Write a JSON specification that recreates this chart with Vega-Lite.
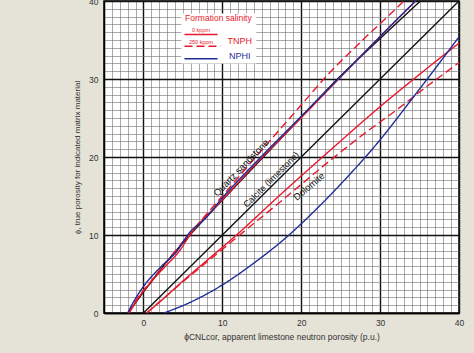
{
  "$schema": "https://vega.github.io/schema/vega-lite/v6.json",
  "width": 355,
  "height": 312,
  "autosize": {"type": "none"},
  "padding": {"left": 104, "top": 1, "right": 15, "bottom": 40},
  "background": "#e5e2d7",
  "config": {
    "view": {"fill": "white", "stroke": "#000", "strokeWidth": 1.5},
    "font": "Liberation Sans",
    "text": {"font": "Liberation Sans"}
  },
  "resolve": {"axis": {"x": "independent", "y": "independent"}},
  "datasets": {
    "curves": [
      {"matrix": "Quartz sandstone", "kind": "CNL", "x": -1.9, "y": 0},
      {"matrix": "Quartz sandstone", "kind": "CNL", "x": -0.5, "y": 2},
      {"matrix": "Quartz sandstone", "kind": "CNL", "x": 1, "y": 4},
      {"matrix": "Quartz sandstone", "kind": "CNL", "x": 3.3, "y": 7},
      {"matrix": "Quartz sandstone", "kind": "CNL", "x": 5.9, "y": 10},
      {"matrix": "Quartz sandstone", "kind": "CNL", "x": 10.5, "y": 15},
      {"matrix": "Quartz sandstone", "kind": "CNL", "x": 15.2, "y": 20},
      {"matrix": "Quartz sandstone", "kind": "CNL", "x": 19.9, "y": 25},
      {"matrix": "Quartz sandstone", "kind": "CNL", "x": 24.6, "y": 30},
      {"matrix": "Quartz sandstone", "kind": "CNL", "x": 29.8, "y": 35},
      {"matrix": "Quartz sandstone", "kind": "CNL", "x": 35.1, "y": 40},
      {"matrix": "Calcite", "kind": "CNL", "x": 0, "y": 0},
      {"matrix": "Calcite", "kind": "CNL", "x": 40, "y": 40},
      {"matrix": "Quartz sandstone", "kind": "TNPH 0 kppm", "x": -1.8, "y": 0},
      {"matrix": "Quartz sandstone", "kind": "TNPH 0 kppm", "x": -0.6, "y": 2},
      {"matrix": "Quartz sandstone", "kind": "TNPH 0 kppm", "x": 0.8, "y": 3.8},
      {"matrix": "Quartz sandstone", "kind": "TNPH 0 kppm", "x": 2.7, "y": 5.9},
      {"matrix": "Quartz sandstone", "kind": "TNPH 0 kppm", "x": 4.6, "y": 8},
      {"matrix": "Quartz sandstone", "kind": "TNPH 0 kppm", "x": 5.9, "y": 10},
      {"matrix": "Quartz sandstone", "kind": "TNPH 0 kppm", "x": 9.9, "y": 14.4},
      {"matrix": "Quartz sandstone", "kind": "TNPH 0 kppm", "x": 14.6, "y": 19.5},
      {"matrix": "Quartz sandstone", "kind": "TNPH 0 kppm", "x": 19.2, "y": 24.2},
      {"matrix": "Quartz sandstone", "kind": "TNPH 0 kppm", "x": 23.8, "y": 29},
      {"matrix": "Quartz sandstone", "kind": "TNPH 0 kppm", "x": 28.4, "y": 33.8},
      {"matrix": "Quartz sandstone", "kind": "TNPH 0 kppm", "x": 32.8, "y": 38.3},
      {"matrix": "Quartz sandstone", "kind": "TNPH 0 kppm", "x": 34.5, "y": 40},
      {"matrix": "Quartz sandstone", "kind": "TNPH 250 kppm", "x": -1.9, "y": 0},
      {"matrix": "Quartz sandstone", "kind": "TNPH 250 kppm", "x": -0.7, "y": 2},
      {"matrix": "Quartz sandstone", "kind": "TNPH 250 kppm", "x": 0.8, "y": 3.9},
      {"matrix": "Quartz sandstone", "kind": "TNPH 250 kppm", "x": 5.8, "y": 10.1},
      {"matrix": "Quartz sandstone", "kind": "TNPH 250 kppm", "x": 10, "y": 15},
      {"matrix": "Quartz sandstone", "kind": "TNPH 250 kppm", "x": 14.4, "y": 20.2},
      {"matrix": "Quartz sandstone", "kind": "TNPH 250 kppm", "x": 19, "y": 25.5},
      {"matrix": "Quartz sandstone", "kind": "TNPH 250 kppm", "x": 23.6, "y": 30.8},
      {"matrix": "Quartz sandstone", "kind": "TNPH 250 kppm", "x": 28, "y": 35.2},
      {"matrix": "Quartz sandstone", "kind": "TNPH 250 kppm", "x": 32.3, "y": 39.3},
      {"matrix": "Quartz sandstone", "kind": "TNPH 250 kppm", "x": 33, "y": 40},
      {"matrix": "Quartz sandstone", "kind": "NPHI", "x": -2, "y": 0},
      {"matrix": "Quartz sandstone", "kind": "NPHI", "x": -1.1, "y": 1.7},
      {"matrix": "Quartz sandstone", "kind": "NPHI", "x": 0.3, "y": 3.8},
      {"matrix": "Quartz sandstone", "kind": "NPHI", "x": 2.2, "y": 5.9},
      {"matrix": "Quartz sandstone", "kind": "NPHI", "x": 4.3, "y": 8},
      {"matrix": "Quartz sandstone", "kind": "NPHI", "x": 5.6, "y": 10},
      {"matrix": "Quartz sandstone", "kind": "NPHI", "x": 8, "y": 12.3},
      {"matrix": "Quartz sandstone", "kind": "NPHI", "x": 9.7, "y": 14.4},
      {"matrix": "Quartz sandstone", "kind": "NPHI", "x": 14.5, "y": 19.6},
      {"matrix": "Quartz sandstone", "kind": "NPHI", "x": 19.2, "y": 24.4},
      {"matrix": "Quartz sandstone", "kind": "NPHI", "x": 23.8, "y": 29.1},
      {"matrix": "Quartz sandstone", "kind": "NPHI", "x": 28.4, "y": 33.8},
      {"matrix": "Quartz sandstone", "kind": "NPHI", "x": 32.8, "y": 38.3},
      {"matrix": "Quartz sandstone", "kind": "NPHI", "x": 34.5, "y": 40},
      {"matrix": "Dolomite", "kind": "TNPH 0 kppm", "x": 0.4, "y": 0},
      {"matrix": "Dolomite", "kind": "TNPH 0 kppm", "x": 2.5, "y": 1.8},
      {"matrix": "Dolomite", "kind": "TNPH 0 kppm", "x": 5, "y": 4.1},
      {"matrix": "Dolomite", "kind": "TNPH 0 kppm", "x": 8, "y": 6.7},
      {"matrix": "Dolomite", "kind": "TNPH 0 kppm", "x": 11.8, "y": 10},
      {"matrix": "Dolomite", "kind": "TNPH 0 kppm", "x": 17.5, "y": 15.3},
      {"matrix": "Dolomite", "kind": "TNPH 0 kppm", "x": 23.6, "y": 20.8},
      {"matrix": "Dolomite", "kind": "TNPH 0 kppm", "x": 29.7, "y": 26.2},
      {"matrix": "Dolomite", "kind": "TNPH 0 kppm", "x": 35, "y": 30.6},
      {"matrix": "Dolomite", "kind": "TNPH 0 kppm", "x": 40, "y": 34.6},
      {"matrix": "Dolomite", "kind": "TNPH 250 kppm", "x": 0.4, "y": 0},
      {"matrix": "Dolomite", "kind": "TNPH 250 kppm", "x": 5, "y": 4},
      {"matrix": "Dolomite", "kind": "TNPH 250 kppm", "x": 8, "y": 6.5},
      {"matrix": "Dolomite", "kind": "TNPH 250 kppm", "x": 12.2, "y": 10},
      {"matrix": "Dolomite", "kind": "TNPH 250 kppm", "x": 18, "y": 14.8},
      {"matrix": "Dolomite", "kind": "TNPH 250 kppm", "x": 23.6, "y": 19.5},
      {"matrix": "Dolomite", "kind": "TNPH 250 kppm", "x": 28, "y": 23},
      {"matrix": "Dolomite", "kind": "TNPH 250 kppm", "x": 32.3, "y": 26.2},
      {"matrix": "Dolomite", "kind": "TNPH 250 kppm", "x": 36, "y": 29.1},
      {"matrix": "Dolomite", "kind": "TNPH 250 kppm", "x": 40, "y": 32.1},
      {"matrix": "Dolomite", "kind": "NPHI", "x": 2.6, "y": 0},
      {"matrix": "Dolomite", "kind": "NPHI", "x": 6, "y": 1.4},
      {"matrix": "Dolomite", "kind": "NPHI", "x": 10, "y": 3.6},
      {"matrix": "Dolomite", "kind": "NPHI", "x": 14, "y": 6.4},
      {"matrix": "Dolomite", "kind": "NPHI", "x": 18, "y": 9.6},
      {"matrix": "Dolomite", "kind": "NPHI", "x": 22, "y": 13.4},
      {"matrix": "Dolomite", "kind": "NPHI", "x": 26, "y": 17.6},
      {"matrix": "Dolomite", "kind": "NPHI", "x": 30, "y": 22.2},
      {"matrix": "Dolomite", "kind": "NPHI", "x": 34, "y": 27.4},
      {"matrix": "Dolomite", "kind": "NPHI", "x": 37.4, "y": 31.9},
      {"matrix": "Dolomite", "kind": "NPHI", "x": 40, "y": 35.4}
    ]
  },
  "layer": [
    {
      "data": {"name": "curves"},
      "transform": [{"filter": "datum.kind === 'CNL'"}],
      "mark": {"type": "line", "color": "#111111", "strokeWidth": 1.4, "interpolate": "monotone"},
      "encoding": {
        "x": {
          "field": "x", "type": "quantitative",
          "scale": {"domain": [-5, 40], "nice": false, "zero": false},
          "axis": {
            "orient": "bottom",
            "title": "ϕCNLcor, apparent limestone neutron porosity (p.u.)",
            "values": [-5,-4,-3,-2,-1,0,1,2,3,4,5,6,7,8,9,10,11,12,13,14,15,16,17,18,19,20,21,22,23,24,25,26,27,28,29,30,31,32,33,34,35,36,37,38,39,40],
            "labelExpr": "datum.value % 10 === 0 ? datum.label : ''",
            "labelOverlap": false, "labelFlush": false,
            "ticks": false, "labelPadding": 5,
            "labelFontSize": 8.5, "labelColor": "#333333",
            "titleFontSize": 8.5, "titleFontWeight": "normal", "titleColor": "#333333", "titlePadding": 6,
            "domainColor": "#000000", "domainWidth": 1.5,
            "grid": true,
            "gridColor": {"condition": {"test": "datum.value % 10 === 0", "value": "#111111"}, "value": "#707070"},
            "gridWidth": {"condition": {"test": "datum.value % 10 === 0", "value": 1.4}, "value": 0.6},
            "gridOpacity": 1
          }
        },
        "y": {
          "field": "y", "type": "quantitative",
          "scale": {"domain": [0, 40], "nice": false, "zero": false},
          "axis": {
            "orient": "left",
            "title": "ϕ, true porosity for indicated matrix material",
            "values": [0,1,2,3,4,5,6,7,8,9,10,11,12,13,14,15,16,17,18,19,20,21,22,23,24,25,26,27,28,29,30,31,32,33,34,35,36,37,38,39,40],
            "labelExpr": "datum.value % 10 === 0 ? datum.label : ''",
            "labelOverlap": false, "labelFlush": false,
            "ticks": false, "labelPadding": 6,
            "labelFontSize": 8.5, "labelColor": "#333333",
            "titleFontSize": 8, "titleFontWeight": "normal", "titleColor": "#333333", "titlePadding": 7,
            "domainColor": "#000000", "domainWidth": 1.5,
            "grid": true,
            "gridColor": {"condition": {"test": "datum.value % 10 === 0", "value": "#111111"}, "value": "#707070"},
            "gridWidth": {"condition": {"test": "datum.value % 10 === 0", "value": 1.4}, "value": 0.6},
            "gridOpacity": 1
          }
        },
        "detail": {"field": "matrix"}
      }
    },
    {
      "data": {"name": "curves"},
      "transform": [{"filter": "datum.kind !== 'CNL'"}],
      "mark": {"type": "line", "strokeWidth": 1.4, "interpolate": "monotone"},
      "encoding": {
        "x": {"field": "x", "type": "quantitative", "axis": null},
        "y": {"field": "y", "type": "quantitative", "axis": null},
        "detail": {"field": "matrix"},
        "color": {
          "field": "kind", "type": "nominal", "legend": null,
          "scale": {"domain": ["TNPH 0 kppm", "TNPH 250 kppm", "NPHI"], "range": ["#e8192c", "#e8192c", "#1f2d98"]}
        },
        "strokeDash": {
          "field": "kind", "type": "nominal", "legend": null,
          "scale": {"domain": ["TNPH 0 kppm", "TNPH 250 kppm", "NPHI"], "range": [[1, 0], [8, 4], [1, 0]]}
        }
      }
    },
    {
      "data": {"values": [{}]},
      "mark": {"type": "text", "text": "Quartz sandstone", "angle": -46, "fontSize": 9.5, "color": "#111111"},
      "encoding": {
        "x": {"datum": 12.4, "type": "quantitative", "axis": null},
        "y": {"datum": 18.6, "type": "quantitative", "axis": null}
      }
    },
    {
      "data": {"values": [{}]},
      "mark": {"type": "text", "text": "Calcite (limestone)", "angle": -45, "fontSize": 9, "color": "#111111"},
      "encoding": {
        "x": {"datum": 16.2, "type": "quantitative", "axis": null},
        "y": {"datum": 17.1, "type": "quantitative", "axis": null}
      }
    },
    {
      "data": {"values": [{}]},
      "mark": {"type": "text", "text": "Dolomite", "angle": -40, "fontSize": 9.5, "color": "#111111"},
      "encoding": {
        "x": {"datum": 21, "type": "quantitative", "axis": null},
        "y": {"datum": 16.2, "type": "quantitative", "axis": null}
      }
    },
    {
      "data": {"values": [{}]},
      "mark": {"type": "rect", "fill": "white"},
      "encoding": {
        "x": {"datum": 4.8, "type": "quantitative", "axis": null},
        "x2": {"datum": 14.3},
        "y": {"datum": 32.0, "type": "quantitative", "axis": null},
        "y2": {"datum": 38.4}
      }
    },
    {
      "data": {"values": [{}]},
      "mark": {"type": "text", "text": "Formation salinity", "fontSize": 8.5, "color": "#e8192c"},
      "encoding": {
        "x": {"datum": 9.5, "type": "quantitative", "axis": null},
        "y": {"datum": 37.8, "type": "quantitative", "axis": null}
      }
    },
    {
      "data": {"values": [{}]},
      "mark": {"type": "text", "text": "0 kppm", "fontSize": 5.5, "color": "#e8192c"},
      "encoding": {
        "x": {"datum": 7.3, "type": "quantitative", "axis": null},
        "y": {"datum": 36.3, "type": "quantitative", "axis": null}
      }
    },
    {
      "data": {"values": [{}]},
      "mark": {"type": "rule", "color": "#e8192c", "strokeWidth": 1.5},
      "encoding": {
        "x": {"datum": 5.2, "type": "quantitative", "axis": null},
        "x2": {"datum": 9.4},
        "y": {"datum": 35.7, "type": "quantitative", "axis": null}
      }
    },
    {
      "data": {"values": [{}]},
      "mark": {"type": "text", "text": "250 kppm", "fontSize": 5.5, "color": "#e8192c"},
      "encoding": {
        "x": {"datum": 7.3, "type": "quantitative", "axis": null},
        "y": {"datum": 34.8, "type": "quantitative", "axis": null}
      }
    },
    {
      "data": {"values": [{}]},
      "mark": {"type": "rule", "color": "#e8192c", "strokeWidth": 1.5, "strokeDash": [8, 4]},
      "encoding": {
        "x": {"datum": 5.2, "type": "quantitative", "axis": null},
        "x2": {"datum": 9.8},
        "y": {"datum": 34.2, "type": "quantitative", "axis": null}
      }
    },
    {
      "data": {"values": [{}]},
      "mark": {"type": "text", "text": "TNPH", "fontSize": 9, "color": "#e8192c"},
      "encoding": {
        "x": {"datum": 12.2, "type": "quantitative", "axis": null},
        "y": {"datum": 34.9, "type": "quantitative", "axis": null}
      }
    },
    {
      "data": {"values": [{}]},
      "mark": {"type": "rule", "color": "#1f2d98", "strokeWidth": 1.5},
      "encoding": {
        "x": {"datum": 5.2, "type": "quantitative", "axis": null},
        "x2": {"datum": 9.4},
        "y": {"datum": 32.6, "type": "quantitative", "axis": null}
      }
    },
    {
      "data": {"values": [{}]},
      "mark": {"type": "text", "text": "NPHI", "fontSize": 9, "color": "#1f2d98"},
      "encoding": {
        "x": {"datum": 12.2, "type": "quantitative", "axis": null},
        "y": {"datum": 33.0, "type": "quantitative", "axis": null}
      }
    }
  ]
}
